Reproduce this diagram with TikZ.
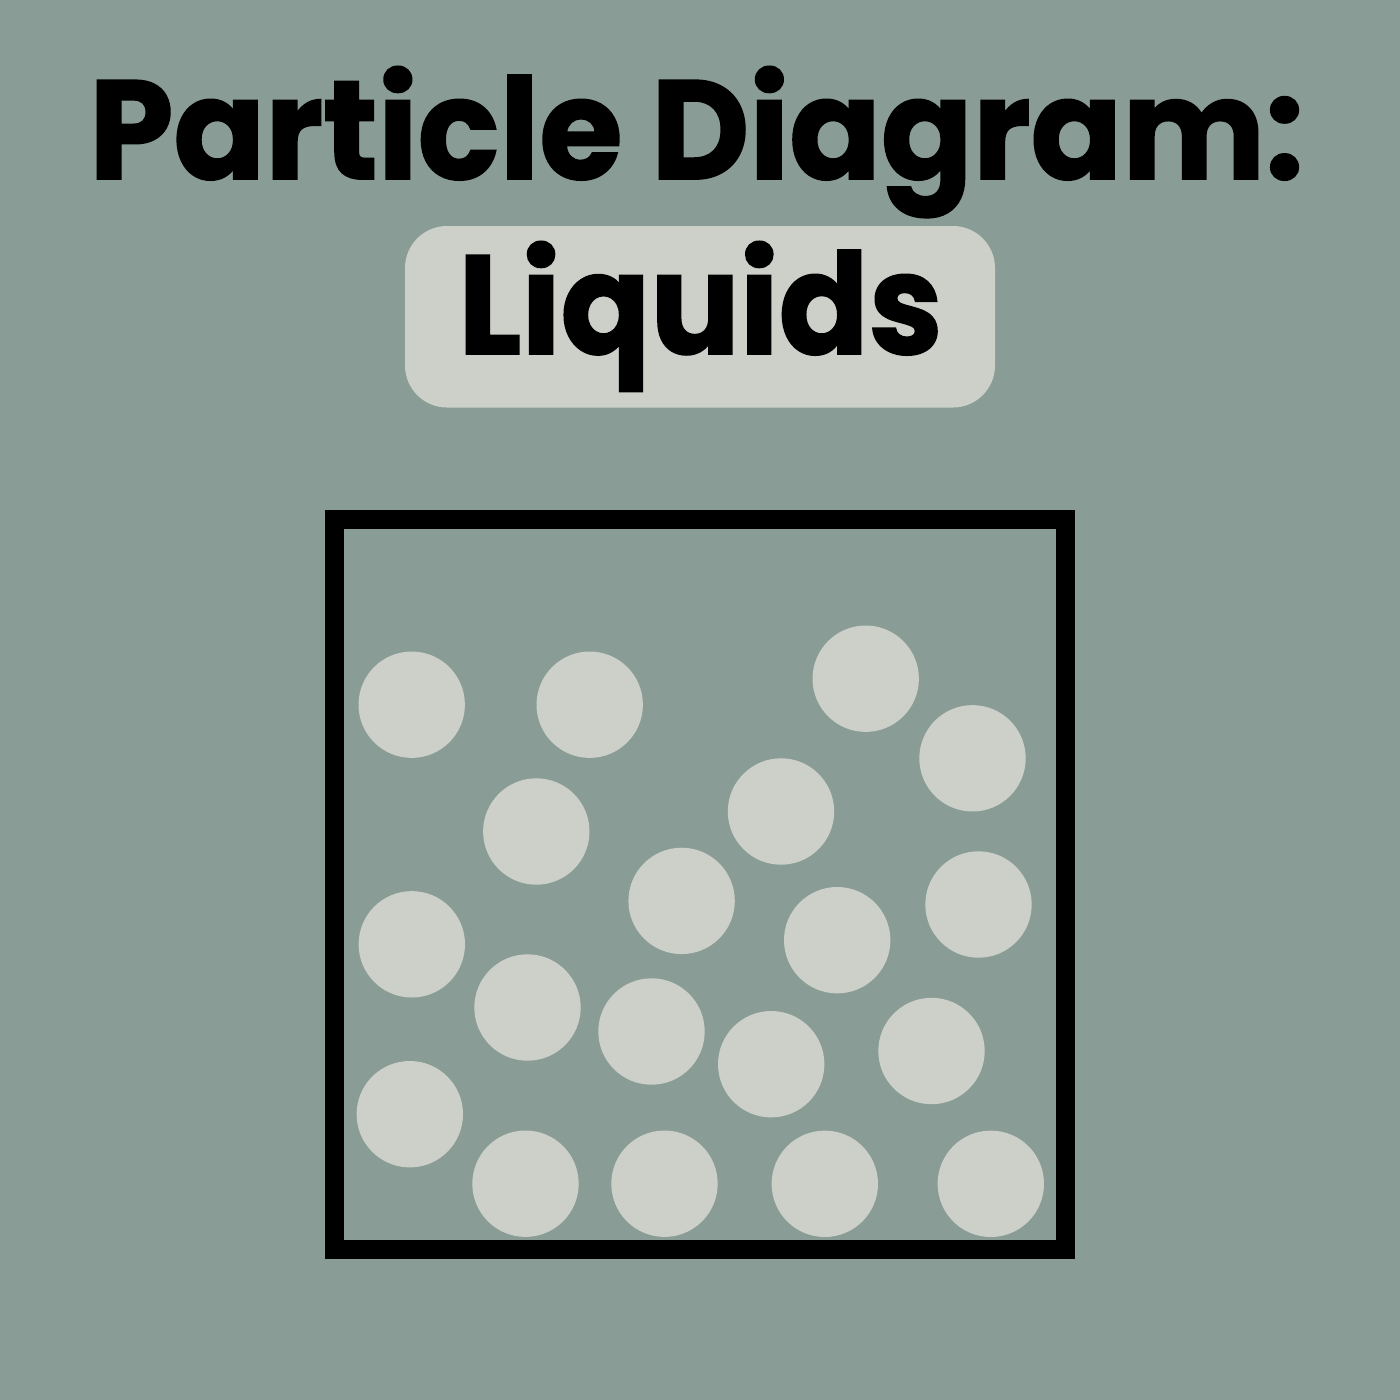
\documentclass[tikz,border=0pt]{standalone}
\usepackage{fontspec}
\setmainfont{Poppins}
\newfontfamily\headfont{Poppins}[FakeBold=1.3]
\definecolor{bgc}{HTML}{899C96}
\definecolor{pale}{HTML}{CCD0C9}
\tikzset{
  particle/.style={circle, fill=pale, minimum size=1.064cm, inner sep=0pt},
  headtext/.style={font=\headfont\fontsize{40}{40}\selectfont\bfseries, text=black, inner sep=0pt},
  container/.style={draw=black, line width=0.19cm}
}
\begin{document}
\begin{tikzpicture}
\fill[bgc] (0,0) rectangle (14,-14);
\useasboundingbox (0,0) rectangle (14,-14);
\node[headtext, anchor=base, xscale=0.961] (title) at (6.965,-1.79) {Particle Diagram:};
\fill[pale, rounded corners=0.42cm] (4.05,-2.26) rectangle (9.95,-4.075);
\node[headtext, anchor=base, xscale=0.942] (sub) at (7.005,-3.54) {Liquids};
\draw[container] (3.345,-5.195) rectangle (10.655,-12.496);
\foreach \n/\x/\y in {
 p1/411.7/704.7, p2/589.7/704.7, p3/865.7/678.7, p4/972.5/758.3,
 p5/536.3/831.5, p6/781/811.5, p7/681.6/900.9, p8/978.5/904.5,
 p9/411.8/944.3, p10/837.2/940.2, p11/527.5/1007.5, p12/651.5/1031.5,
 p13/771.2/1064.2, p14/931.5/1051, p15/409.8/1114.2, p16/525.5/1183.7,
 p17/664.5/1183.7, p18/824.8/1183.8, p19/990.8/1183.8}
  \node[particle] (\n) at (\x/100,-\y/100) {};
\end{tikzpicture}
\end{document}
